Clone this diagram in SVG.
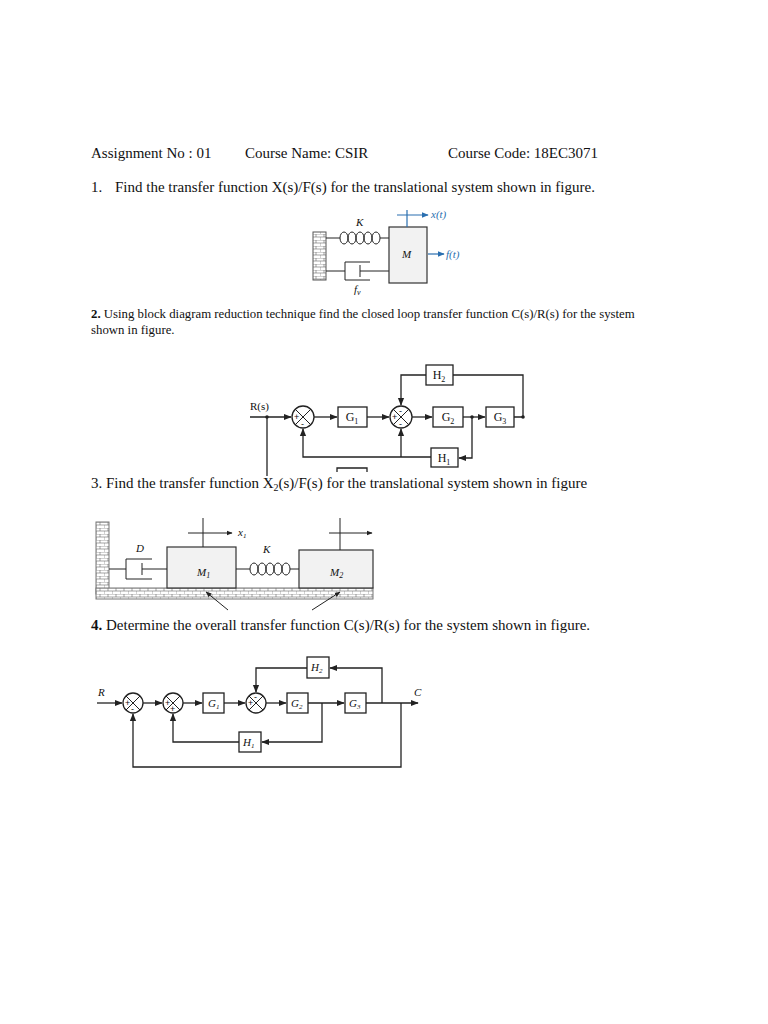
<svg xmlns="http://www.w3.org/2000/svg" width="768" height="1024" viewBox="0 0 768 1024">
<defs>
<marker id="a" viewBox="0 0 10 10" refX="9" refY="5" markerWidth="6" markerHeight="6" orient="auto"><path d="M0,1 L10,5 L0,9z" fill="#222"/></marker>
<marker id="ab" viewBox="0 0 10 10" refX="9" refY="5" markerWidth="6" markerHeight="6" orient="auto"><path d="M0,1 L10,5 L0,9z" fill="#2a6fb0"/></marker>
<pattern id="brick" width="8" height="6" patternUnits="userSpaceOnUse"><rect width="8" height="6" fill="#fff"/><path d="M0,0H8M0,3H8M4,0V3M0,3V6" stroke="#666" stroke-width="0.6"/></pattern>
</defs>
<style>
text{font-family:"Liberation Serif","Times New Roman",serif;fill:#111}
.t{font-size:15px}
.l{font-size:11px;font-style:italic}
.s{font-size:9px;font-family:"Liberation Sans",sans-serif}
.b{fill:#fff;stroke:#222;stroke-width:1.3}
.m{fill:#f2f2f2;stroke:#333;stroke-width:1.2}
.w{stroke:#222;stroke-width:1.3;fill:none}
.c{stroke:#222;stroke-width:1;fill:none}
.bl{stroke:#2a6fb0;stroke-width:1.2;fill:none}
.g{font-size:12px;text-anchor:middle}
</style>
<rect width="768" height="1024" fill="#fff"/>
<g id="texts">
<text class="t" x="91" y="158">Assignment No : 01</text>
<text class="t" x="245" y="158">Course Name: CSIR</text>
<text class="t" x="448" y="158">Course Code: 18EC3071</text>
<text class="t" x="91" y="192">1.</text>
<text class="t" x="115" y="192">Find the transfer function X(s)/F(s) for the translational system shown in figure.</text>
<text x="91" y="318" font-size="12.8"><tspan font-weight="bold">2.</tspan> Using block diagram reduction technique find the closed loop transfer function C(s)/R(s) for the system</text>
<text x="91" y="334" font-size="12.8">shown in figure.</text>
<text class="t" x="91" y="488">3. Find the transfer function X<tspan font-size="10" dy="3">2</tspan><tspan dy="-3">(s)/F(s) for the translational system shown in figure</tspan></text>
<text class="t" x="91" y="630"><tspan font-weight="bold">4.</tspan> Determine the overall transfer function C(s)/R(s) for the system shown in figure.</text>
</g>
<g id="fig1">
<rect x="313" y="232" width="13" height="48" fill="url(#brick)" stroke="#555"/>
<path class="c" d="M326,238H340 M380,238H389"/>
<g class="c"><ellipse cx="344" cy="238" rx="4" ry="6"/><ellipse cx="352" cy="238" rx="4" ry="6"/><ellipse cx="360" cy="238" rx="4" ry="6"/><ellipse cx="368" cy="238" rx="4" ry="6"/><ellipse cx="376" cy="238" rx="4" ry="6"/></g>
<text class="l" x="356" y="226">K</text>
<path class="c" d="M326,271H345 M370,262H345V280H370 M360,265V277 M360,271H389"/>
<text class="l" x="354" y="293">f<tspan font-size="8" dy="2">v</tspan></text>
<rect class="m" x="389" y="227" width="38" height="56"/>
<text class="l" x="402" y="258">M</text>
<path class="bl" d="M407,210V227 M397,215H428" marker-end="url(#ab)"/>
<text class="l" x="431" y="218" style="fill:#2a6fb0">x(t)</text>
<path class="bl" d="M428,254H444" marker-end="url(#ab)"/>
<text class="l" x="446" y="258" style="fill:#2a6fb0">f(t)</text>
</g>
<g id="fig2-conn" class="w">
<path d="M250,417H291" marker-end="url(#a)"/>
<path d="M267,417V476"/>
<path d="M314,417H337" marker-end="url(#a)"/>
<path d="M367,417H389" marker-end="url(#a)"/>
<path d="M412,417H432" marker-end="url(#a)"/>
<path d="M463,417H485" marker-end="url(#a)"/>
<path d="M514,417H523V375H453"/>
<path d="M426,375H401V405" marker-end="url(#a)"/>
<path d="M472,417V458H459" marker-end="url(#a)"/>
<path d="M431,457H303V429" marker-end="url(#a)"/>
<path d="M401,457V429" marker-end="url(#a)"/>
<path d="M337,472V468H367V472"/>
</g>
<g id="fig2-nodes">
<text x="250" y="410" font-size="11">R(s)</text>
<circle cx="267" cy="417" r="1.8" fill="#222"/><circle cx="472" cy="417" r="1.8" fill="#222"/><circle cx="523" cy="417" r="1.8" fill="#222"/>
<g id="s2a"><circle class="b" cx="303" cy="417" r="11"/><path class="c" d="M295,409L311,425M311,409L295,425"/><text class="s" x="294" y="420">+</text><text class="s" x="301" y="427">-</text></g>
<g id="s2b"><circle class="b" cx="401" cy="417" r="11"/><path class="c" d="M393,409L409,425M409,409L393,425"/><text class="s" x="399" y="414">-</text><text class="s" x="392" y="420">+</text><text class="s" x="399" y="427">-</text></g>
<g id="g1b"><rect class="b" x="338" y="407" width="29" height="20"/><text class="g" x="352" y="421">G<tspan font-size="8" dy="3">1</tspan></text></g>
<g id="g2b"><rect class="b" x="433" y="407" width="30" height="20"/><text class="g" x="448" y="421">G<tspan font-size="8" dy="3">2</tspan></text></g>
<g id="g3b"><rect class="b" x="486" y="407" width="28" height="20"/><text class="g" x="500" y="421">G<tspan font-size="8" dy="3">3</tspan></text></g>
<g id="h2b"><rect class="b" x="426" y="365" width="27" height="20"/><text class="g" x="439" y="379">H<tspan font-size="8" dy="3">2</tspan></text></g>
<g id="h1b"><rect class="b" x="431" y="448" width="27" height="19"/><text class="g" x="444" y="462">H<tspan font-size="8" dy="3">1</tspan></text></g>
</g>
<g id="fig3">
<rect x="96" y="522" width="13" height="72" fill="url(#brick)" stroke="#777"/>
<rect x="96" y="588" width="277" height="11" fill="url(#brick)" stroke="#777"/>
<rect class="m" x="167" y="547" width="69" height="41"/>
<rect class="m" x="299" y="550" width="74" height="38"/>
<path class="c" d="M109,569H126 M152,559H126V579H152 M142,563V575 M142,569H167"/>
<text class="l" x="136" y="552">D</text>
<path class="c" d="M236,569H250 M290,569H299"/>
<g class="c"><ellipse cx="254" cy="569" rx="4" ry="6"/><ellipse cx="262" cy="569" rx="4" ry="6"/><ellipse cx="270" cy="569" rx="4" ry="6"/><ellipse cx="278" cy="569" rx="4" ry="6"/><ellipse cx="286" cy="569" rx="4" ry="6"/></g>
<text class="l" x="263" y="553">K</text>
<text class="l" x="197" y="576">M<tspan font-size="8" dy="2">1</tspan></text>
<text class="l" x="330" y="576">M<tspan font-size="8" dy="2">2</tspan></text>
<path class="c" d="M203,518V547 M188,533H232" marker-end="url(#a)"/>
<text class="l" x="238" y="536" font-size="9">x<tspan font-size="7" dy="2">1</tspan></text>
<path class="c" d="M340,518V550 M329,533H372" marker-end="url(#a)"/>
<path class="c" d="M228,610L206,592" marker-end="url(#a)"/>
<path class="c" d="M312,610L340,592" marker-end="url(#a)"/>
</g>
<g id="fig4-conn" class="w">
<path d="M97,703H122" marker-end="url(#a)"/>
<path d="M143,703H162" marker-end="url(#a)"/>
<path d="M183,703H202" marker-end="url(#a)"/>
<path d="M224,703H245" marker-end="url(#a)"/>
<path d="M266,703H286" marker-end="url(#a)"/>
<path d="M308,703H344" marker-end="url(#a)"/>
<path d="M366,703H418" marker-end="url(#a)"/>
<path d="M382,703V668H330" marker-end="url(#a)"/>
<path d="M307,668H256V692" marker-end="url(#a)"/>
<path d="M322,703V742H262" marker-end="url(#a)"/>
<path d="M239,742H173V714" marker-end="url(#a)"/>
<path d="M401,703V767H133V714" marker-end="url(#a)"/>
</g>
<g id="fig4-nodes">
<text class="l" x="98" y="696">R</text><text class="l" x="414" y="696">C</text>
<g id="s4a"><circle class="b" cx="133" cy="703" r="10"/><path class="c" d="M126,696L140,710M140,696L126,710"/><text class="s" x="125" y="706">+</text><text class="s" x="131" y="712">-</text></g>
<g id="s4b"><circle class="b" cx="173" cy="703" r="10"/><path class="c" d="M166,696L180,710M180,696L166,710"/><text class="s" x="165" y="706">+</text><text class="s" x="170" y="712">+</text></g>
<g id="s4c"><circle class="b" cx="256" cy="703" r="10"/><path class="c" d="M249,696L263,710M263,696L249,710"/><text class="s" x="254" y="700">-</text><text class="s" x="248" y="706">+</text></g>
<g id="g41"><rect class="b" x="203" y="693" width="21" height="20"/><text class="l" x="208" y="707">G<tspan font-size="7" dy="2">1</tspan></text></g>
<g id="g42"><rect class="b" x="287" y="693" width="21" height="20"/><text class="l" x="291" y="707">G<tspan font-size="7" dy="2">2</tspan></text></g>
<g id="g43"><rect class="b" x="345" y="693" width="21" height="20"/><text class="l" x="349" y="707">G<tspan font-size="7" dy="2">3</tspan></text></g>
<g id="h42"><rect class="b" x="307" y="657" width="22" height="21"/><text class="l" x="311" y="671">H<tspan font-size="7" dy="2">2</tspan></text></g>
<g id="h41"><rect class="b" x="239" y="732" width="22" height="20"/><text class="l" x="243" y="746">H<tspan font-size="7" dy="2">1</tspan></text></g>
</g>
</svg>
